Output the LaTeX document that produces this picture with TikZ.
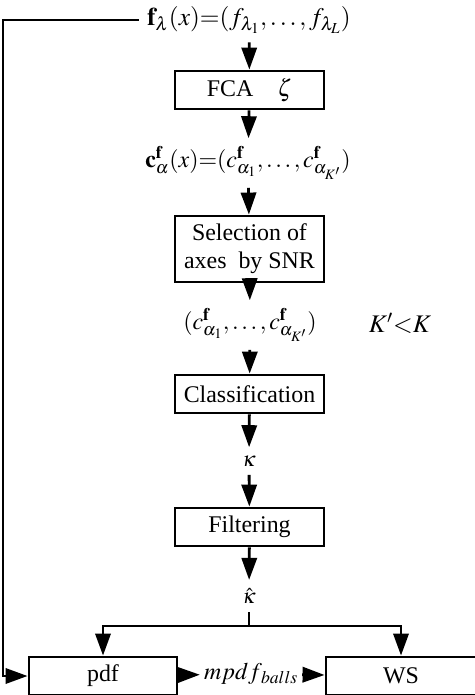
\documentclass[tikz,border=0pt]{standalone}
\usepackage{mathptmx}
\usepackage{fontspec}
\setmainfont{Liberation Serif}
\usetikzlibrary{arrows.meta}
\tikzset{
  blok/.style={draw,line width=2pt,minimum width=3.725cm,minimum height=0.95cm,inner sep=0pt,align=center,font=\fontsize{17}{20}\selectfont},
  txt/.style={inner sep=1pt,outer sep=5pt,font=\fontsize{18}{21}\selectfont},
  pijl/.style={line width=2pt,-{Triangle[length=5.5mm,width=3.8mm]}},
  lijn/.style={line width=2pt}
}
\begin{document}
\begin{tikzpicture}[x=0.025cm,y=-0.025cm]
\useasboundingbox (0,0) rectangle (474,695);

   \node[txt] at (249,20) (flam) {$\mathbf{f}_{\lambda}(x){=}(f_{\lambda_1},\dots,f_{\lambda_L})$};
   \node[blok] at (249.5,90) (fca) {FCA\quad$\zeta$};
   \node[txt,font=\fontsize{17}{20}\selectfont] at (248,163) (coef) {$\mathbf{c}^{\mathbf{f}}_{\alpha}(x){=}(c^{\mathbf{f}}_{\alpha_1},\dots,c^{\mathbf{f}}_{\alpha_{K'}})$};
   \node[blok,minimum height=1.65cm] at (249.5,249) (sel) {Selection of\\axes\ \ by SNR};
   \node[txt,font=\fontsize{17}{20}\selectfont] at (250,325) (coefk) {$(c^{\mathbf{f}}_{\alpha_1},\dots,c^{\mathbf{f}}_{\alpha_{K'}})$};
   \node[txt] at (400,323) (kk) {$K'{<}K$};
   \node[blok] at (249.5,394) (cls) {Classification};
   \node[txt,font=\fontsize{15}{18}\selectfont] at (249,461) (kap) {$\kappa$};
   \node[blok] at (249.5,527) (filt) {Filtering};
   \node[txt,font=\fontsize{15}{18}\selectfont] at (249,596) (kaphat) {$\hat{\kappa}$};
   \node[blok,minimum width=3.7cm] at (103,676) (pdf) {pdf};
   \node[txt,outer sep=2pt,font=\fontsize{17}{20}\selectfont] at (251,674) (mpdf) {$mpdf_{\,balls}$};
   \node[blok,minimum width=3.75cm] at (401,676) (ws) {WS};

   \coordinate (corner) at (3,20);
   \coordinate (split) at (249,626);

   \draw[pijl] (flam) -- (fca);
   \draw[pijl] (fca) -- (coef);
   \draw[pijl] (coef) -- (sel);
   \draw[pijl] (sel) -- (coefk);
   \draw[pijl] (coefk) -- (cls);
   \draw[pijl] (cls) -- (kap);
   \draw[pijl] (kap) -- (filt);
   \draw[pijl] (filt) -- (kaphat);

   \draw[lijn] (kaphat) -- (split);
   \draw[pijl] (split) -| (pdf.north);
   \draw[pijl] (split) -| (ws.north);

   \draw[pijl] (flam.west) -- (corner) -- (corner |- pdf.west) -- (pdf.west);
   \draw[pijl] (pdf) -- (mpdf);
   \draw[pijl] (mpdf) -- (ws);

\end{tikzpicture}
\end{document}
